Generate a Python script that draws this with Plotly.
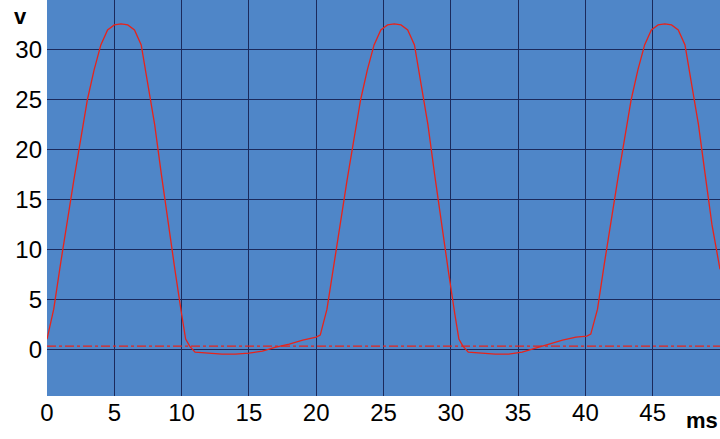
import plotly.graph_objects as go

t = [0, 0.5, 1, 1.5, 2, 2.5, 3, 3.5, 4, 4.5, 5, 5.5, 6, 6.5, 7, 7.5, 8, 8.5, 9, 9.5, 10, 10.3, 10.6, 11, 12, 13, 14, 15, 16, 17, 18, 19, 20, 20.3,
     20.8, 21.3, 21.8, 22.3, 22.8, 23.3, 23.8, 24.3, 24.8, 25.3, 25.8, 26.3, 26.8, 27.3, 27.8, 28.3, 28.8, 29.3, 29.8, 30.3, 30.6, 30.9, 31.3, 32.3, 33.3, 34.3, 35.3, 36.3, 37.3, 38.3, 39.3, 40.1, 40.4,
     40.9, 41.4, 41.9, 42.4, 42.9, 43.4, 43.9, 44.4, 44.9, 45.4, 45.9, 46.4, 46.9, 47.4, 47.9, 48.4, 48.9, 49.4, 50]
v = [1, 4, 8.5, 13, 17, 21, 25, 28, 30.5, 32, 32.5, 32.6, 32.5, 32, 30.5, 26.5, 22.5, 17.5, 12.5, 8, 3.5, 1, 0.3, -0.3, -0.4, -0.5, -0.5, -0.4, -0.2, 0.2, 0.5, 0.9, 1.2, 1.4,
     4, 8.5, 13, 17, 21, 25, 28, 30.5, 32, 32.5, 32.6, 32.5, 32, 30.5, 26.5, 22.5, 17.5, 12.5, 8, 3.5, 1, 0.3, -0.3, -0.4, -0.5, -0.5, -0.3, 0.1, 0.5, 0.9, 1.2, 1.3, 1.5,
     4, 8.5, 13, 17, 21, 25, 28, 30.5, 32, 32.5, 32.6, 32.5, 32, 30.5, 26.5, 22.5, 17.5, 12.5, 8, 5]
ref_level = 0.3
x_ticks = [0, 5, 10, 15, 20, 25, 30, 35, 40, 45]
y_ticks = [0, 5, 10, 15, 20, 25, 30]

fig = go.Figure()
fig.add_trace(go.Scatter(x=t, y=v, mode="lines", line=dict(color="#E8231A", width=1.3)))
fig.add_trace(go.Scatter(x=[0, 50], y=[ref_level, ref_level], mode="lines",
                         line=dict(color="#E8231A", width=1.3, dash="dashdot")))
grid = "#1B2A5C"
fig.update_layout(
    width=720, height=439, margin=dict(l=47, r=0, t=0, b=43),
    paper_bgcolor="white", plot_bgcolor="#4F86C8", showlegend=False,
    font=dict(family="Liberation Sans, Arial", size=24, color="black"),
    xaxis=dict(range=[0, 50], tickvals=x_ticks, showgrid=True, gridcolor=grid, gridwidth=1,
               zeroline=False, showline=False, ticks="", automargin=False, ticklabelstandoff=0),
    yaxis=dict(range=[-4.7, 35], tickvals=y_ticks, showgrid=True, gridcolor=grid, gridwidth=1,
               zeroline=False, showline=False, ticks="", automargin=False, ticklabelstandoff=4),
    annotations=[
        dict(text="<b>v</b>", xref="paper", yref="paper", x=-0.04, y=0.995, xanchor="center", yanchor="top",
             showarrow=False, font=dict(size=22)),
        dict(text="<b>ms</b>", xref="paper", yref="paper", x=1.0, y=-0.025, xanchor="right", yanchor="top",
             showarrow=False, font=dict(size=22)),
    ],
)
fig.write_html("out.html", config={"displayModeBar": False})
with open("out.html", encoding="utf-8") as f:
    html = f.read()
html = html.replace("<head>", "<head><style>html,body{margin:0;padding:0;overflow:hidden}</style>", 1)
with open("out.html", "w", encoding="utf-8") as f:
    f.write(html)
